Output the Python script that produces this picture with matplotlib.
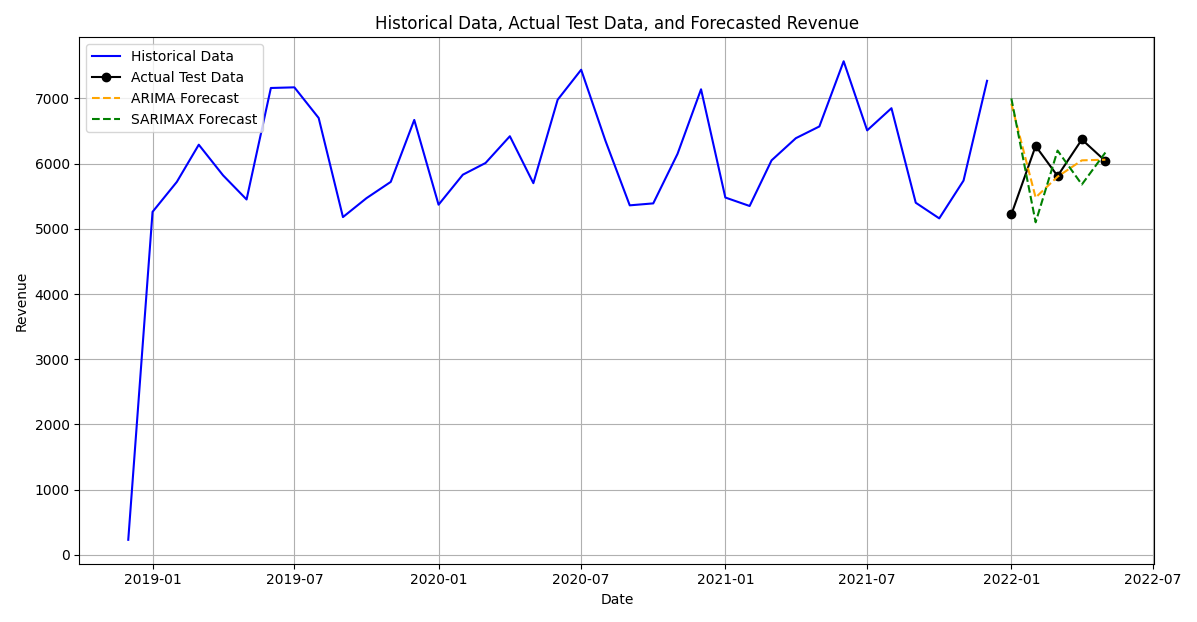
import pandas as pd
import matplotlib
matplotlib.use("Agg")
import matplotlib.pyplot as plt

hist_dates = pd.date_range("2018-12-01", "2021-12-01", freq="MS")
hist_values = [230,
               5260, 5720, 6290, 5820, 5450, 7160, 7170, 6700, 5180, 5470, 5720, 6670,
               5370, 5830, 6010, 6420, 5700, 6980, 7440, 6350, 5360, 5390, 6150, 7140,
               5480, 5350, 6050, 6390, 6570, 7570, 6510, 6850, 5400, 5160, 5740, 7270]

test_dates = pd.date_range("2022-01-01", "2022-05-01", freq="MS")
test_values = [5220, 6270, 5810, 6370, 6040]
arima_values = [6920, 5480, 5800, 6050, 6060]
sarimax_values = [7000, 5100, 6200, 5680, 6170]

fig, ax = plt.subplots(figsize=(11.97, 6.22), dpi=100)
ax.plot(hist_dates, hist_values, color="blue", label="Historical Data")
ax.plot(test_dates, test_values, color="black", marker="o", label="Actual Test Data")
ax.plot(test_dates, arima_values, color="orange", linestyle="--", label="ARIMA Forecast")
ax.plot(test_dates, sarimax_values, color="green", linestyle="--", label="SARIMAX Forecast")
ax.set_title("Historical Data, Actual Test Data, and Forecasted Revenue")
ax.set_xlabel("Date")
ax.set_ylabel("Revenue")
ax.legend(loc="upper left")
ax.grid(True)
fig.tight_layout()
fig.savefig("out.png")
